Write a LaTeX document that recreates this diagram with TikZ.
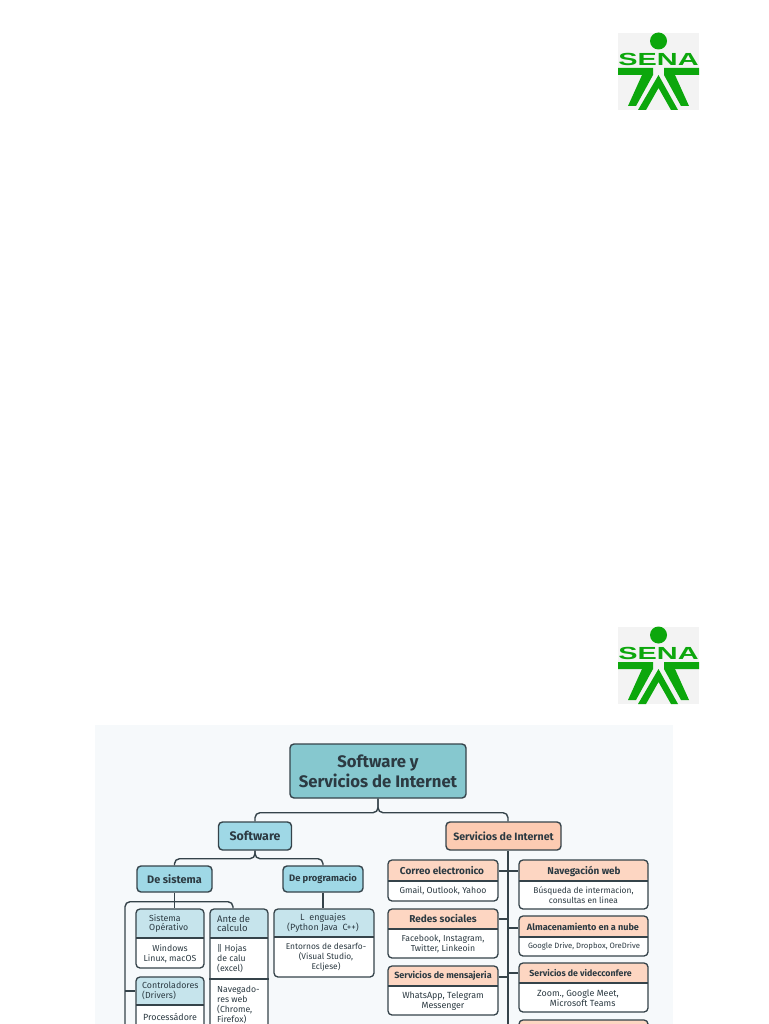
\documentclass[tikz,border=0pt]{standalone}
\usepackage{fontspec}
\setmainfont{Fira Sans}
\newfontfamily\logofont{Liberation Sans}
\usepackage{xcolor}
\usepackage{tikz}
\usetikzlibrary{calc}

\definecolor{inkline}{HTML}{35434A}
\definecolor{inktext}{HTML}{2C3A42}
\definecolor{panelbg}{HTML}{F6F9FB}
\definecolor{rootfill}{HTML}{86C8CF}
\definecolor{softfill}{HTML}{9FD8E6}
\definecolor{softhead}{HTML}{C6E4EC}
\definecolor{netfill}{HTML}{FCCBB2}
\definecolor{nethead}{HTML}{FDD6C2}
\definecolor{senagreen}{HTML}{0CA70C}
\definecolor{senabg}{HTML}{F3F3F3}

\tikzset{
  main/.style = {draw=inkline, rounded corners=4pt, line width=1.4pt, text=inktext, align=center, inner sep=0pt},
  cardline/.style = {draw=inkline, line width=1.3pt},
  link/.style = {draw=inkline, line width=1.4pt, rounded corners=5pt},
  bigbox/.style = {main, fill=rootfill, font=\fontsize{16.7}{20}\selectfont\bfseries},
  softbox/.style = {main, fill=softfill, font=\fontsize{12.4}{14}\selectfont\bfseries},
  netbox/.style = {main, fill=netfill, font=\fontsize{10.6}{13}\selectfont\bfseries},
  headtext/.style = {text=inktext, align=center, inner sep=0pt, font=\fontsize{8.8}{9.6}\selectfont},
  nettitle/.style = {headtext, font=\fontsize{10}{11}\selectfont\bfseries},
  bodytext/.style = {text=inktext, align=center, inner sep=0pt, font=\fontsize{8.7}{10}\selectfont},
  logo/.pic = {
    \fill[senabg] (0,0) rectangle (81,77);
    \fill[senagreen] (40.5,8) circle (8.5);
    \fill[senagreen] (0,35) rectangle (35,42) (46,35) rectangle (81,42);
    \fill[senagreen] (24,42) -- (35,42) -- (18,73) -- (10,73) -- cycle;
    \fill[senagreen] (57,42) -- (46,42) -- (63,73) -- (71,73) -- cycle;
    \fill[senagreen] (40.5,42) -- (60,77) -- (53,77) -- (40.5,55) -- (28,77) -- (20,77) -- cycle;
    \node (word) at (40.5,26.5) {\logofont\bfseries\color{senagreen}\scalebox{1.65}[1]{\fontsize{17.5}{17.5}\selectfont SENA}};
  }
}

% header band and body of one card: name, left, top, right, bottom, split, head colour
\newcommand{\cardbox}[7]{
  \node[cardline, fill=white, rounded corners=4pt, inner sep=0pt, minimum width=#4pt-#2pt, minimum height=#5pt-#3pt,
    path picture={
      \fill[#7] (path picture bounding box.north west) rectangle ([yshift={(#3pt-#6pt)}]path picture bounding box.north east);
      \draw[cardline] ([yshift={(#3pt-#6pt)}]path picture bounding box.north west) -- ([yshift={(#3pt-#6pt)}]path picture bounding box.north east);}]
    (#1) at ({(#2+#4)/2},{(#3+#5)/2}) {};
}

\begin{document}
\begin{tikzpicture}[x=1pt, y=-1pt]
\useasboundingbox (0,0) rectangle (768,1024);
\clip (0,0) rectangle (768,1024);
\fill[white] (0,0) rectangle (768,1024);
\fill[panelbg] (95,725) rectangle (673,1024);

\pic at (618,33) {logo};
\pic at (618,627) {logo};

% top of the tree
\node[bigbox, minimum width=176pt, minimum height=54pt] (root) at (378,771) {Software y\\Servicios de Internet};
\node[softbox, minimum width=73pt, minimum height=28pt] (soft) at (255,836) {Software};
\node[netbox, minimum width=115pt, minimum height=28pt] (net) at (503.5,836) {Servicios de Internet};
\node[softbox, minimum width=75pt, minimum height=26pt, font=\fontsize{10.9}{12}\selectfont\bfseries] (sis) at (174.5,879) {De sistema};
\node[softbox, minimum width=80pt, minimum height=26pt, font=\fontsize{9.4}{12}\selectfont\bfseries] (prog) at (323,879) {De programacio};

% cards of the software side
\cardbox{oper}{136}{909}{204}{968}{938}{softhead}
\cardbox{ante}{210}{909}{268}{1060}{938}{softhead}
\cardbox{ctrl}{136}{977}{204}{1060}{1005}{softhead}
\cardbox{leng}{274}{909}{374}{977}{937}{softhead}
\draw[cardline] (ante.west |- 0,979) -- (ante.east |- 0,979);
\node[headtext, anchor=west, align=left] (opert) at (149,923.5) {Sistema\\Opérativo};
\node[bodytext] (operb) at (170,953.5) {Windows\\Linux, macOS};
\node[headtext, anchor=west, align=left, font=\fontsize{9.5}{9.8}\selectfont] (antet) at (217,923.5) {Ante de\\calculo};
\node[bodytext, anchor=west, align=left] (anteb) at (217,959) {‖ Hojas\\de calu\\(excel)};
\node[bodytext, anchor=west, align=left] (anten) at (217,1005) {Navegado-\\res web\\(Chrome,\\Firefox)};
\node[headtext, anchor=west, align=left] (ctrlt) at (142,991) {Controladores\\(Drivers)};
\node[bodytext, anchor=west, align=left, font=\fontsize{8.9}{10}\selectfont] (ctrlb) at (143,1017) {Processádore};
\node[headtext, font=\fontsize{9}{10}\selectfont] (lengt) at (323,923) {L\ \ enguajes\\(Python Java\ \ C++)};
\node[bodytext, font=\fontsize{8.4}{10}\selectfont] (lengb) at (326,957) {Entornos de desarfo-\\(Visual Studio,\\Ecljese)};

% cards of the internet side
\cardbox{mail}{388}{860}{498}{901}{881}{nethead}
\cardbox{redes}{388}{909}{498}{958}{929}{nethead}
\cardbox{mens}{388}{966}{498}{1015}{986}{nethead}
\cardbox{nave}{519}{860}{648}{909}{881}{nethead}
\cardbox{alma}{519}{916}{648}{956}{937}{nethead}
\cardbox{video}{519}{963}{648}{1012}{983}{nethead}
\cardbox{extra}{519}{1020}{648}{1060}{1040}{nethead}
\node[nettitle] (mailt) at (442,871) {Correo electronico};
\node[bodytext] (mailb) at (443,891) {Gmail, Outlook, Yahoo};
\node[nettitle] (redest) at (443,919) {Redes sociales};
\node[bodytext] (redesb) at (443,944) {Facebook, Instagram,\\Twitter, Linkeoin};
\node[nettitle, font=\fontsize{9}{10}\selectfont\bfseries] (menst) at (443,976) {Servicios de mensajeria};
\node[bodytext, font=\fontsize{8.9}{10}\selectfont] (mensb) at (443,1001) {WhatsApp, Telegram\\Messenger};
\node[nettitle, font=\fontsize{9.9}{11}\selectfont\bfseries] (navet) at (584,871) {Navegación web};
\node[bodytext, font=\fontsize{8.4}{10}\selectfont] (naveb) at (583.5,895) {Búsqueda de intermacion,\\consultas en linea};
\node[nettitle, font=\fontsize{9.1}{10}\selectfont\bfseries] (almat) at (583,927) {Almacenamiento en a nube};
\node[bodytext, font=\fontsize{7.7}{10}\selectfont] (almab) at (584,946) {Google Drive, Dropbox, OreDrive};
\node[nettitle, font=\fontsize{8.8}{10}\selectfont\bfseries] (videot) at (580.5,973) {Servicios de videcconfere};
\node[bodytext, font=\fontsize{8.9}{10}\selectfont] (videob) at (578,998) {Zoom., Google Meet,\\\ \ \ \ Microsoft Teams};

% connectors
\draw[link] (root.south) -- ++(0,14) -| (soft.north);
\draw[link] (root.south) -- ++(0,14) -| (net.north -| 508,0);
\draw[link] (soft.south) -- ++(0,8) -| (sis.north);
\draw[link] (soft.south) -- ++(0,8) -| (prog.north);
\draw[link] (sis.south) -- (oper.north -| sis.south);
\draw[link] (sis.south) ++(0,9) -| (ante.north -| 233,0);
\draw[link] (sis.south) ++(0,9) -| (125,1040);
\draw[link] (125,991) -- (ctrl.west |- 0,991);
\draw[link] (prog.south) -- (leng.north -| prog.south);
\draw[link] (net.south -| 508,0) -- (508,1040);
\draw[link, line width=1.7pt] (mail.east |- 0,871) -- (nave.west |- 0,871);
\draw[link] (redes.east |- 0,919) -- (508,919);
\draw[link] (alma.west |- 0,928) -- (508,928);
\draw[link] (mens.east |- 0,977) -- (508,977);
\draw[link] (video.west |- 0,973) -- (508,973);
\end{tikzpicture}
\end{document}
